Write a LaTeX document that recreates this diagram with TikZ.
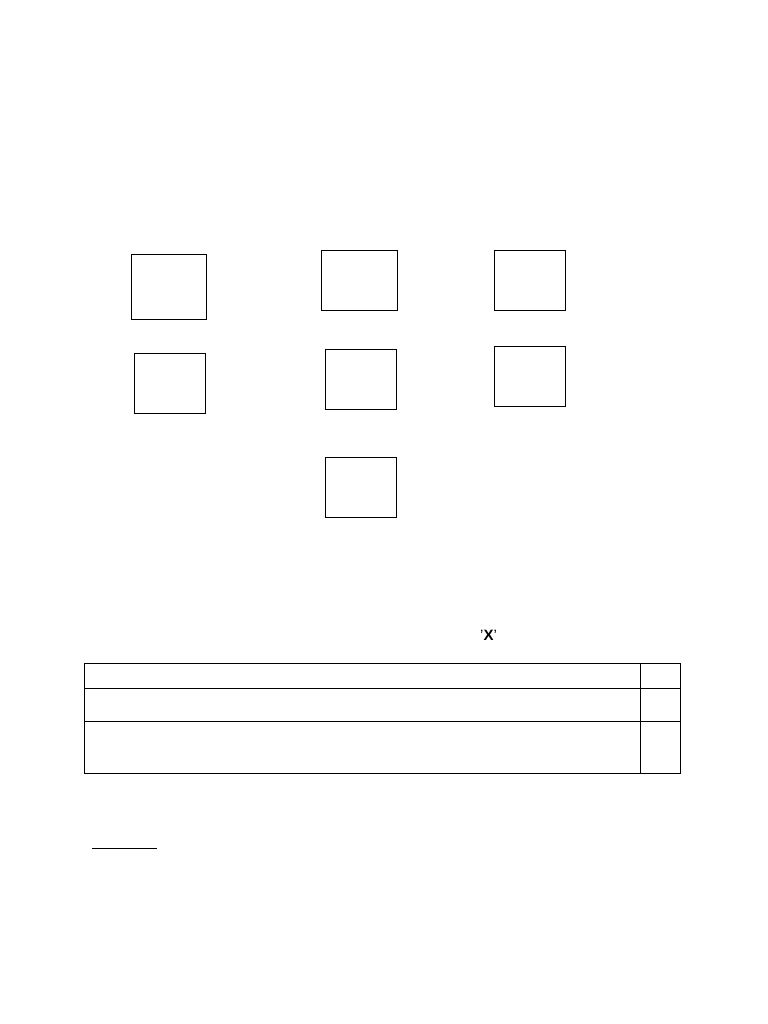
\documentclass[tikz,border=0pt]{standalone}
\usepackage{fontspec}
\setmainfont{Liberation Sans}
\usepackage{tikz}
\usetikzlibrary{positioning}
\tikzstyle{box} = [draw, line width=0.8pt, inner sep=0pt,
	minimum width = 2.02cm,
	minimum height = 1.71cm]
\tikzstyle{rule} = [line width=0.8pt]
\begin{document}
\begin{tikzpicture}[x=0.028112cm, y=-0.028112cm]
	\useasboundingbox (0,0) rectangle (768,1024);
	% top row
	\node (a) [box, minimum width=2.08cm, minimum height=1.80cm] at (169,287) {};
	\node (b) [box, minimum width=2.11cm] at (359.5,280.5) {};
	\node (c) [box] at (530,280.5) {};
	% second row
	\node (d) [box] at (170,383.5) {};
	\node (e) [box] at (361,379.5) {};
	\node (f) [box] at (530,376.5) {};
	% bottom box
	\node (g) [box] at (361,487.5) {};
	
	\node (mark) at (488.5,635) {\fontsize{12}{14}\selectfont '\textbf{X}'};
	
	% table
	\draw [rule] (84,663) rectangle (680,773);
	\draw [rule] (84,688) -- (680,688);
	\draw [rule] (84,721.5) -- (680,721.5);
	\draw [rule] (640,663) -- (640,773);
	
	\coordinate (s1) at (92,848);
	\coordinate (s2) at (157,848);
	\draw [rule] (s1) -- (s2);
\end{tikzpicture}
\end{document}
